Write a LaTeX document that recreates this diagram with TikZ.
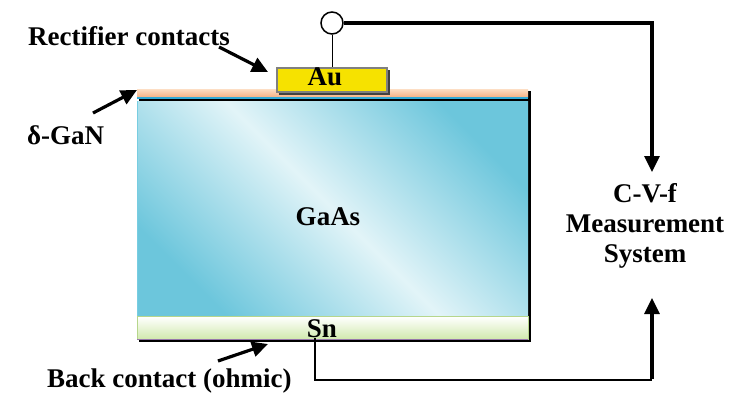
\documentclass[tikz,border=0pt]{standalone}
\usepackage{fontspec}
\setmainfont{Liberation Serif}
\usetikzlibrary{arrows.meta}
\definecolor{gaD}{RGB}{108,198,220}
\definecolor{gaL}{RGB}{226,244,248}
\definecolor{gaE}{RGB}{120,205,225}
\definecolor{dgL}{RGB}{253,222,196}
\definecolor{dgD}{RGB}{246,178,134}
\definecolor{blueln}{RGB}{50,170,215}
\definecolor{snG}{RGB}{208,232,172}
\definecolor{snB}{RGB}{182,214,140}
\definecolor{snP}{RGB}{150,120,170}
\definecolor{auY}{RGB}{246,226,0}
\begin{document}
\begin{tikzpicture}[x=1pt,y=-1pt,
  lab/.style={font=\fontsize{27}{32}\selectfont\bfseries, inner sep=0pt},
  arr/.style={line width=3.2pt,-{Triangle[length=16pt,width=15pt]}},
  thinwire/.style={line width=1.5pt},
  line join=miter]
\useasboundingbox (0,0) rectangle (737,413);
% shadow of the stack
\fill[black] (139,91) rectangle (531,342);
% delta-GaN layer
\shade[top color=dgL, bottom color=dgD] (137,89) rectangle (528,97);
\fill[blueln] (137,97) rectangle (528,99);
% GaAs body
\node[anchor=north west, minimum width=391pt, minimum height=215pt, inner sep=0pt,
  left color=gaD, right color=gaD, middle color=gaL, shading angle=-45] (gaas) at (137,101) {};
\draw[gaE, line width=1pt] (137.5,101) -- (137.5,316);
% Sn back contact
\node[anchor=north west, minimum width=391pt, minimum height=23pt, inner sep=0pt,
  top color=white, bottom color=snG, draw=snB, line width=1pt] (sn) at (137,316) {};
\draw[snP, line width=1pt] (137,339.5) -- (528,339.5);
% Au contact
\fill[black!75] (279,70) rectangle (390,95);
\node[anchor=north west, minimum width=110pt, minimum height=24pt, inner sep=0pt,
  fill=auY, draw=gray, line width=1.5pt] (au) at (276,67) {};
% labels
\node[lab, anchor=base] (auL) at (325,85) {Au};
\node[lab, anchor=base] (snL) at (322,337) {Sn};
\node[lab, anchor=base] (gaasL) at (328,225) {GaAs};
\node[lab, anchor=base west] (rect) at (28,45) {Rectifier contacts};
\node[lab, anchor=base west] (dgan) at (27,144) {δ-GaN};
\node[lab, anchor=base west] (back) at (47,387) {Back contact (ohmic)};
\node[lab, align=center, anchor=north] (cvf) at (645,183)
  {C-V-f\\[-2pt]Measurement\\[-2pt]System};
% terminal
\node[circle, draw, fill=white, line width=1.5pt, minimum size=22pt, inner sep=0pt] (term) at (332,23) {};
% arrow tips
\coordinate (tipR) at (268,72);
\coordinate (tipD) at (137,90);
\coordinate (tipB) at (268,344);
\coordinate (in1) at (652,172);
\coordinate (in2) at (652,298);
\coordinate (c2) at (652,380);
\coordinate (snTap) at (315,338);
% label arrows
\draw[arr] ([shift={(-11,2)}]rect.base east) -- (tipR);
\draw[arr] ([shift={(66,-31)}]dgan.base west) -- (tipD);
\draw[arr] ([shift={(171,-26)}]back.base west) -- (tipB);
% wiring
\draw[line width=1pt] (term.south) -- (term |- au.north);
\draw[arr] (term.east) -| (in1);
\draw[thinwire] (snTap) |- (c2);
\draw[arr] ([yshift=0.75pt]c2) -- (in2);
\end{tikzpicture}
\end{document}
